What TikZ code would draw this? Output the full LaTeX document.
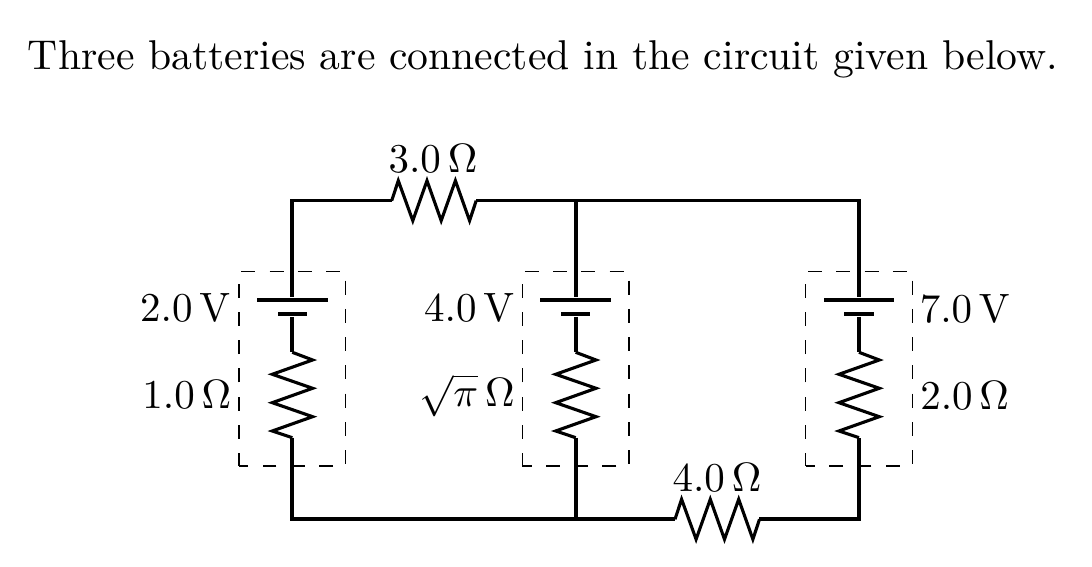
\documentclass[tikz,border=0pt]{standalone}
\usepackage{amsmath,amssymb}
\usetikzlibrary{positioning}

\tikzset{
  pics/reshor/.style={code={
    \draw[zig] (0,0) coordinate (-in) -- ++(6.6,-20) -- ++(14.5,40) -- ++(14.2,-40) -- ++(14.2,40)
      -- ++(14.2,-40) -- ++(14.2,40) -- ++(6.6,-20) coordinate (-out);
  }},
  pics/resver/.style={code={
    \draw[zig] (0,0) coordinate (-in) -- ++(20.3,7.7) -- ++(-40.3,14.3) -- ++(40.3,14) -- ++(-40.3,14.4)
      -- ++(40.3,14) -- ++(-40.3,14.3) -- ++(20,6.7) coordinate (-out);
  }}
}

\begin{document}
\begin{tikzpicture}
    [x=.244pt,y=-.244pt,
    wire/.style={line width=.88pt,miter limit=10},
    zig/.style={line width=.76pt,miter limit=10},
    plate/.style={
      rectangle,
      fill=black,
      inner sep=0pt,
      minimum height=1pt,
      minimum width=#1
      },
    dbox/.style={line width=.35pt,dash pattern=on 3.4pt off 3.5pt,dash phase=.3pt},
    lab/.style={inner sep=0pt,anchor=base #1},
    lab/.default={}]

    \useasboundingbox (0,0) rectangle (1092,567);

    \node (title) [lab,scale=1.016] at (543,70) {Three batteries are connected in the circuit given below.};

    % the three branches
    \foreach \i/\x in {l/292.3,m/575.7,r/859}{
      \coordinate (top\i) at (\x,200.7);
      \coordinate (bot\i) at (\x,519.3);
      \node (long\i) [plate=17.2pt] at (\x,300) {};
      \node (short\i) [plate=7.1pt] at (\x,314) {};
      \pic (res\i) at (\x,352.3) {resver};
      \draw[wire] (short\i.south) -- (res\i-in);
      \coordinate (boxa\i) at (\x-53.3,466);
      \coordinate (boxb\i) at (\x+53.3,271.7);
      \draw[dbox] (boxa\i) rectangle (boxb\i);
    }

    \pic (restop) at (391.7,200.7) {reshor};
    \pic (resbot) at (675,519.3) {reshor};

    \draw[wire] (longl.north) -- (topl) -- (restop-in);
    \draw[wire] (restop-out) -- (topr) -- (longr.north);
    \draw[wire] (topm) -- (longm.north);
    \draw[wire] (resl-out) -- (botl) -- (resbot-in);
    \draw[wire] (resbot-out) -- (botr) -- (resr-out);
    \draw[wire] (resm-out) -- (botm);

    \node (ltop) [lab] at (433,172.7) {$3.0\,\Omega$};
    \node (lbot) [lab] at (717,491.7) {$4.0\,\Omega$};
    \node (vl) [lab=east] at (231.5,321.7) {$2.0\,\mathrm{V}$};
    \node (rl) [lab=east] at (232,409) {$1.0\,\Omega$};
    \node (vm) [lab=east] at (515.5,321.7) {$4.0\,\mathrm{V}$};
    \node (rm) [lab=east] at (515.5,407) {$\sqrt{\pi}\,\Omega$};
    \node (vr) [lab=west] at (919,322.7) {$7.0\,\mathrm{V}$};
    \node (rr) [lab=west] at (919.5,410) {$2.0\,\Omega$};

  \end{tikzpicture}
\end{document}
